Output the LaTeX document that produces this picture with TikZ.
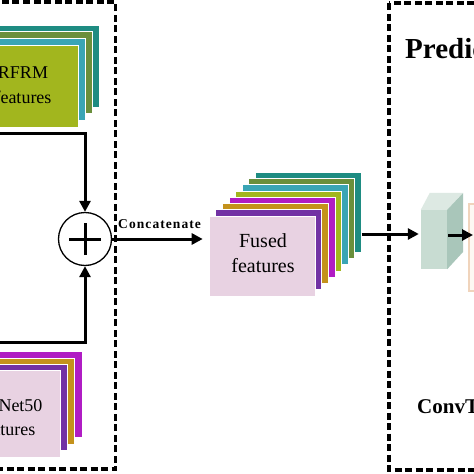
\documentclass[tikz,border=0pt]{standalone}
\usepackage{fontspec}
\setmainfont{Liberation Serif}
\usetikzlibrary{arrows.meta}
\definecolor{tealc}{HTML}{1E8C82}
\definecolor{olivec}{HTML}{6A8F3C}
\definecolor{tealbluec}{HTML}{3AA5B5}
\definecolor{limec}{HTML}{A2B61E}
\definecolor{magentac}{HTML}{B01CC4}
\definecolor{goldc}{HTML}{C4921C}
\definecolor{purplec}{HTML}{7232A4}
\definecolor{pinkc}{HTML}{E8D2E2}
\definecolor{cubefront}{HTML}{C8DCD2}
\definecolor{cubetop}{HTML}{DDE9E3}
\definecolor{cubeside}{HTML}{A9C6BA}
\definecolor{beigefill}{HTML}{FDF8F3}
\definecolor{beigeline}{HTML}{F0D4BC}
\tikzset{
  layer/.style={rectangle, draw=white, line width=0.6pt, inner sep=0pt},
  conn/.style={line width=3pt, -{Triangle[length=11pt,width=11pt]}},
  dashbox/.style={line width=3.4pt, dash pattern=on 7pt off 3.5pt},
  lbl/.style={inner sep=0pt, align=center, text=black},
}
\begin{document}
\begin{tikzpicture}[x=1pt,y=-1pt]
\useasboundingbox (0,0) rectangle (474,474);
\clip (0,0) rectangle (474,474);
\fill[white] (0,0) rectangle (474,474);

% left dashed box
\draw[dashbox] (-20,2) rectangle (115.5,469);
% right dashed box
\draw[dashbox] (389,3) rectangle (500,470);

% RFRM stack
\foreach \k/\c in {3/tealc,2/olivec,1/tealbluec}{
  \node[layer, fill=\c, minimum width=108pt, minimum height=82pt] (rfrmL\k) at (24+7*\k, 86-6.7*\k) {};
}
\node[layer, fill=limec, minimum width=108pt, minimum height=82pt] (rfrm) at (24,86) {};
\node[lbl, font=\fontsize{18pt}{25pt}\selectfont] (rfrmtxt) at (23,85) {RFRM\\features};

% ResNet50 stack
\foreach \k/\c in {3/magentac,2/goldc,1/purplec}{
  \node[layer, fill=\c, minimum width=108pt, minimum height=86pt] (resL\k) at (6+7.3*\k, 413.5-6.3*\k) {};
}
\node[layer, fill=pinkc, minimum width=108pt, minimum height=87pt] (res) at (6,413.5) {};
\node[lbl, font=\fontsize{18pt}{24pt}\selectfont] (restxt) at (7,418) {ResNet50\\features};

% sum node
\node[circle, draw, line width=1.3pt, minimum size=53pt, inner sep=0pt] (sum) at (85,239) {};
\draw[line width=3pt] ([xshift=-16pt]sum.center) -- ([xshift=16pt]sum.center);
\draw[line width=3pt] ([yshift=-16pt]sum.center) -- ([yshift=16pt]sum.center);

\coordinate (ta) at (-10,133);
\coordinate (ba) at (-10,342);
\draw[conn] (ta) -| (sum.north);
\draw[conn] (ba) -| (sum.south);

% Fused stack
\foreach \k/\c in {7/tealc,6/olivec,5/tealbluec,4/limec,3/magentac,2/goldc,1/purplec}{
  \node[layer, fill=\c, minimum width=106pt, minimum height=80pt] (fusedL\k) at (262+6.6*\k, 256-6.3*\k) {};
}
\node[layer, fill=pinkc, minimum width=106pt, minimum height=80pt] (fused) at (262,256) {};
\node[lbl, font=\fontsize{20pt}{25pt}\selectfont] (fusedtxt) at (263,253) {Fused\\features};

% concatenate
\draw[conn] (sum.east) -- ([xshift=-6pt]fused.west |- sum.east);
\node[inner sep=0pt, anchor=west, font=\fontsize{13.5pt}{15pt}\selectfont\bfseries\addfontfeatures{LetterSpace=8}] (concat) at (118,224) {Concatenate};

% cube
\node[rectangle, fill=cubefront, minimum width=26pt, minimum height=59pt, inner sep=0pt] (cube) at (434,239.5) {};
\fill[cubetop] (cube.north west) -- ++(9,-17) -- ++(33,0) -- (cube.north east) -- cycle;
\fill[cubeside] (cube.north east) -- ++(16,-17) -- ++(0,59) -- (cube.south east) -- cycle;

% beige box
\node[rectangle, fill=beigefill, draw=beigeline, line width=1.5pt, minimum width=40pt, minimum height=87pt, anchor=north west] (convbox) at (468,203) {};

% arrows
\draw[conn] (fusedL7.east |- 0,234) -- ([xshift=-2pt]cube.west |- 0,234);
\draw[conn] ([xshift=1pt]cube.east |- 0,235) -- (473,235);

% titles
\node[inner sep=0pt, anchor=base west, font=\fontsize{29pt}{32pt}\selectfont\bfseries] (pred) at (405,58) {Prediction};
\node[inner sep=0pt, anchor=base west, font=\fontsize{21pt}{24pt}\selectfont\bfseries] (convt) at (417,413) {ConvTranspose};
\end{tikzpicture}
\end{document}
